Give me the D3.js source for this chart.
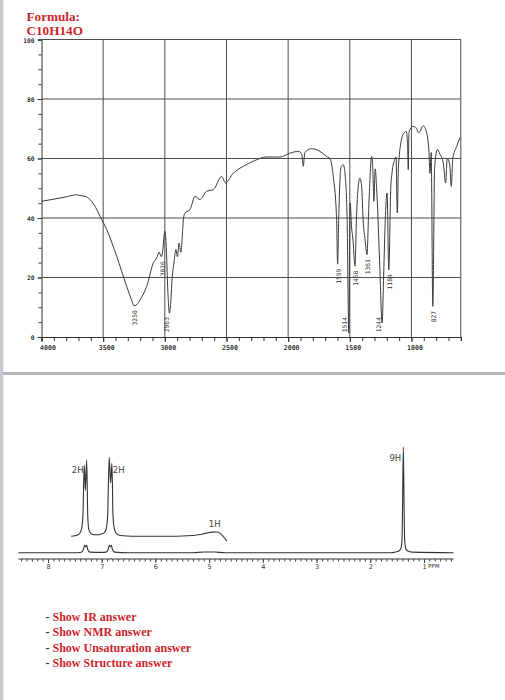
<!DOCTYPE html>
<html><head><meta charset="utf-8">
<script src="https://cdn.jsdelivr.net/npm/d3@7"></script>
<style>
html,body{margin:0;padding:0;background:#fff;}
svg{display:block;}
</style></head>
<body>
<svg id="c" width="505" height="700"></svg>
<script>
// ---------- DATA ----------
const formulaLines = ["Formula:", "C10H14O"];
const irWavenumbers = [4000,3850,3790,3715,3680,3647,3607,3560,3526,3471,3390,3309,3270,3250,3225,3201,3147,3093,3066,3045,3030,3020,3000,2990,2975,2963,2955,2940,2926,2910,2898,2885,2870,2848,2836,2796,2755,2715,2661,2607,2539,2525,2510,2444,2400,2363,2282,2174,2066,1985,1917,1890,1877,1865,1809,1742,1688,1661,1634,1607,1599,1590,1572,1553,1539,1522,1508,1497,1486,1475,1458,1446,1428,1418,1405,1390,1377,1361,1345,1323,1313,1305,1294,1280,1258,1238,1226,1212,1198,1184,1168,1158,1136,1125,1115,1105,1069,1042,1032,1026,1020,985,960,942,904,877,858,850,840,827,812,790,770,742,723,710,690,677,665,634,607];
const irTransmittance = [45.6,46.7,47.2,47.8,47.5,47.3,46.2,43.5,40.6,36.1,27.1,17.0,12.5,10.5,11.0,12.5,17,24.9,26.6,28.5,27.0,28,35.5,31.6,15,8,10,20,24.9,29.4,27,31.6,28.5,40,41.7,42.8,47.3,46.2,49,49.5,54,53,51.8,55.1,56.5,57.4,59.1,60.5,60.5,61.8,62.4,61.5,57.4,62,63.3,62.4,60.7,60,54,39.4,24.5,40,57,57.9,55,40,1.3,45,37,33,23.8,40,52,53.4,51,38,33,27.7,45,60.7,56,45.6,56.5,48,25,4.7,20,40,48.4,22.6,50,55.1,59.6,60.5,41.7,58,68,69.1,65,56.2,69,70.8,70.2,68.6,71,68.6,62,55,62,10.3,57,63,61.5,58.5,51.8,60,58,50.6,60,64,67];
const irPeakLabels = ["3250","3026","2963","1599","1514","1458","1361","1244","1184","827"];
const irPeakMinT = [10.5,27.0,8,24.5,1.3,23.8,27.7,4.7,22.6,10.3];
const irYTicks = [0,20,40,60,80,100];
const irXTicks = [4000,3500,3000,2500,2000,1500,1000];

const nmrLowerPpm = [8.55,7.5,7.38,7.34,7.32,7.30,7.28,7.26,7.22,7.0,6.92,6.88,6.86,6.84,6.82,6.80,6.76,6.5,5.3,5.1,4.9,4.7,1.6,1.55,1.47,1.43,1.41,1.40,1.385,1.37,1.36,1.34,1.30,1.22,0.45];
const nmrLowerInt = [0,0,0.5,3,7,5.5,7,3,0.5,0.3,0.5,3,7,5.5,7,3,0.5,0,0,0.7,0.7,0,0,0.5,1.5,4,12,40,100,40,12,4,1.5,0.5,0];
const nmrInsetPpm = [7.57,7.50,7.44,7.40,7.37,7.35,7.325,7.305,7.28,7.26,7.24,7.20,7.14,7.08,7.02,6.95,6.91,6.89,6.86,6.835,6.81,6.79,6.77,6.74,6.70,6.6,6.3,5.8,5.4,5.2,5.05,4.95,4.86,4.80,4.74,4.67];
const nmrInsetInt = [15.5,16,17,19,24,35,83,59,87.7,35,22,18,17,17,17.5,19,24,35,90.3,66,84.6,35,24,19,17,16,15.5,15.5,16,17,18.5,19.5,19.6,18.5,15.5,11];
const nmrIntegrals = ["2H","2H","1H","9H"];
const nmrIntegralPpm = [7.28,6.86,4.86,1.385];
const nmrPpmTicks = [8,7,6,5,4,3,2,1];
const answerLinks = ["Show IR answer","Show NMR answer","Show Unsaturation answer","Show Structure answer"];

// ---------- DRAW ----------
const svg = d3.select("#c");
const RED = "#cc1f2b";

// page chrome
svg.append("rect").attr("x",0).attr("y",0).attr("width",3.3).attr("height",700).attr("fill","#c6cacf");
svg.append("rect").attr("x",3).attr("y",372).attr("width",502).attr("height",3).attr("fill","#b3b7bc");

// formula
svg.selectAll("text.formula").data(formulaLines).join("text")
  .attr("class","formula")
  .attr("x",26.5).attr("y",(d,i)=>20.5+i*14.8)
  .attr("font-family","'Liberation Serif','Times New Roman',serif")
  .attr("font-weight","bold").attr("font-size",13.2)
  .attr("fill",RED).text(d=>d);

// ---- IR ----
const x = d3.scaleLinear().domain([4000,600]).range([41.5,460.8]);
const y = d3.scaleLinear().domain([0,100]).range([337,39.5]);
const ir = svg.append("g");
const gridColor = "#4d4d4d";
ir.selectAll("line.hg").data(irYTicks.filter(d=>d>0)).join("line")
  .attr("x1",x(4000)).attr("x2",x(600)).attr("y1",d=>y(d)).attr("y2",d=>y(d))
  .attr("stroke",gridColor).attr("stroke-width",1);
ir.selectAll("line.vg").data(irXTicks.filter(d=>d<4000).concat([600])).join("line")
  .attr("x1",d=>x(d)).attr("x2",d=>x(d)).attr("y1",y(100)).attr("y2",y(0))
  .attr("stroke",gridColor).attr("stroke-width",1);
// y axis
const yAxisMinor = d3.axisLeft(y).tickValues(d3.range(0,101,5)).tickSize(3).tickFormat("");
const ga = ir.append("g").attr("transform",`translate(${x(4000)},0)`).call(yAxisMinor);
ga.select(".domain").attr("stroke","#333");
ga.selectAll(".tick line").attr("stroke","#333");
const yAxisLab = d3.axisLeft(y).tickValues(irYTicks).tickSize(4).tickPadding(3).tickFormat(d3.format("d"));
const gl = ir.append("g").attr("transform",`translate(${x(4000)},0)`).call(yAxisLab);
gl.select(".domain").remove();
gl.selectAll(".tick line").attr("stroke","#333");
gl.selectAll("text").attr("dy",d=>d===100?"0.5em":"0.32em").attr("font-family","'DejaVu Sans Mono',monospace").attr("font-weight","bold").attr("font-size",6.3).attr("fill","#333");
// x axis
const xAxisMinor = d3.axisBottom(x).tickValues(d3.range(4000,599,-100)).tickSize(4).tickFormat("");
const gx = ir.append("g").attr("transform",`translate(0,${y(0)})`).call(xAxisMinor);
gx.select(".domain").attr("stroke","#333");
gx.selectAll(".tick line").attr("stroke","#333");
const xAxisLab = d3.axisBottom(x).tickValues(irXTicks).tickSize(5).tickPadding(3).tickFormat(d3.format("d"));
const gx2 = ir.append("g").attr("transform",`translate(0,${y(0)})`).call(xAxisLab);
gx2.select(".domain").remove();
gx2.selectAll(".tick line").attr("stroke","#333");
gx2.selectAll("text").attr("dx",(d)=>d===4000?6:3).attr("font-family","'DejaVu Sans Mono',monospace").attr("font-weight","bold").attr("font-size",6.6).attr("fill","#333");
ir.append("line").attr("x1",x(4000)).attr("x2",x(600)).attr("y1",y(100)).attr("y2",y(100)).attr("stroke",gridColor);

// spectrum
const irData = irWavenumbers.map((w,i)=>[w,irTransmittance[i]]);
ir.append("path").datum(irData)
  .attr("d",d3.line().x(d=>x(d[0])).y(d=>y(d[1])).curve(d3.curveMonotoneX))
  .attr("fill","none").attr("stroke","#3a3a3a").attr("stroke-width",1);

// peak labels
const labelFloor = y(6.7);
ir.selectAll("text.pk").data(irPeakLabels).join("text")
  .attr("class","pk")
  .attr("transform",(d,i)=>{
    const py = y(irPeakMinT[i])+4.5;
    const clamped = py > labelFloor;
    const top = clamped ? labelFloor : py;
    const cx = x(+d) + (clamped ? -3 : 1);
    return `translate(${cx+2.3},${top}) rotate(-90)`;
  })
  .attr("text-anchor","end")
  .attr("font-family","'DejaVu Sans Mono',monospace").attr("font-size",6.3)
  .attr("fill","#333").text(d=>d);

// ---- NMR ----
const nx = d3.scaleLinear().domain([8,1]).range([48,424]);
const ny = d3.scaleLinear().domain([0,100]).range([552.7,447]);
const nmr = svg.append("g");
const nline = d3.line().x(d=>nx(d[0])).y(d=>ny(d[1])).curve(d3.curveMonotoneX);
nmr.append("path").datum(nmrLowerPpm.map((p,i)=>[p,nmrLowerInt[i]]))
  .attr("d",nline).attr("fill","none").attr("stroke","#333").attr("stroke-width",1.1);
nmr.append("path").datum(nmrInsetPpm.map((p,i)=>[p,nmrInsetInt[i]]))
  .attr("d",nline).attr("fill","none").attr("stroke","#333").attr("stroke-width",1.1);

// ppm axis
const naxMinor = d3.axisBottom(nx).tickValues(d3.range(85,4,-1).map(v=>v/10)).tickSize(2.5).tickFormat("");
const gn = nmr.append("g").attr("transform","translate(0,559)").call(naxMinor);
gn.select(".domain").attr("d",`M${nx(8.55)},0H${nx(0.45)}`).attr("stroke","#333");
gn.selectAll(".tick line").attr("stroke","#444");
const naxMaj = d3.axisBottom(nx).tickValues(nmrPpmTicks).tickSize(4).tickPadding(1.5).tickFormat(d3.format("d"));
const gn2 = nmr.append("g").attr("transform","translate(0,559)").call(naxMaj);
gn2.select(".domain").remove();
gn2.selectAll(".tick line").attr("stroke","#444");
gn2.selectAll("text").attr("font-family","'DejaVu Sans',sans-serif").attr("font-size",6.5).attr("fill","#333");
gn2.append("text").attr("x",nx(1)+4).attr("y",9).attr("font-family","'DejaVu Sans',sans-serif").attr("font-size",5.5).attr("fill","#333").attr("text-anchor","start").text("PPM");

// integral labels
const labelDx = [-9,9.5,-2,-8];
const labelY = [473,473,527,461];
nmr.selectAll("text.int").data(nmrIntegrals).join("text")
  .attr("class","int")
  .attr("x",(d,i)=>nx(nmrIntegralPpm[i])+labelDx[i])
  .attr("y",(d,i)=>labelY[i])
  .attr("text-anchor","middle")
  .attr("font-family","'DejaVu Sans',sans-serif").attr("font-size",8.5)
  .attr("fill","#444").text(d=>d);

// answers
const ans = svg.append("g");
answerLinks.forEach((t,i)=>{
  const tx = ans.append("text").attr("x",45.5).attr("y",621+i*15.3)
    .attr("font-family","'Liberation Serif','Times New Roman',serif")
    .attr("font-weight","bold").attr("font-size",12);
  tx.append("tspan").attr("fill","#333").text("- ");
  tx.append("tspan").attr("fill",RED).text(t);
});
</script>
</body></html>
